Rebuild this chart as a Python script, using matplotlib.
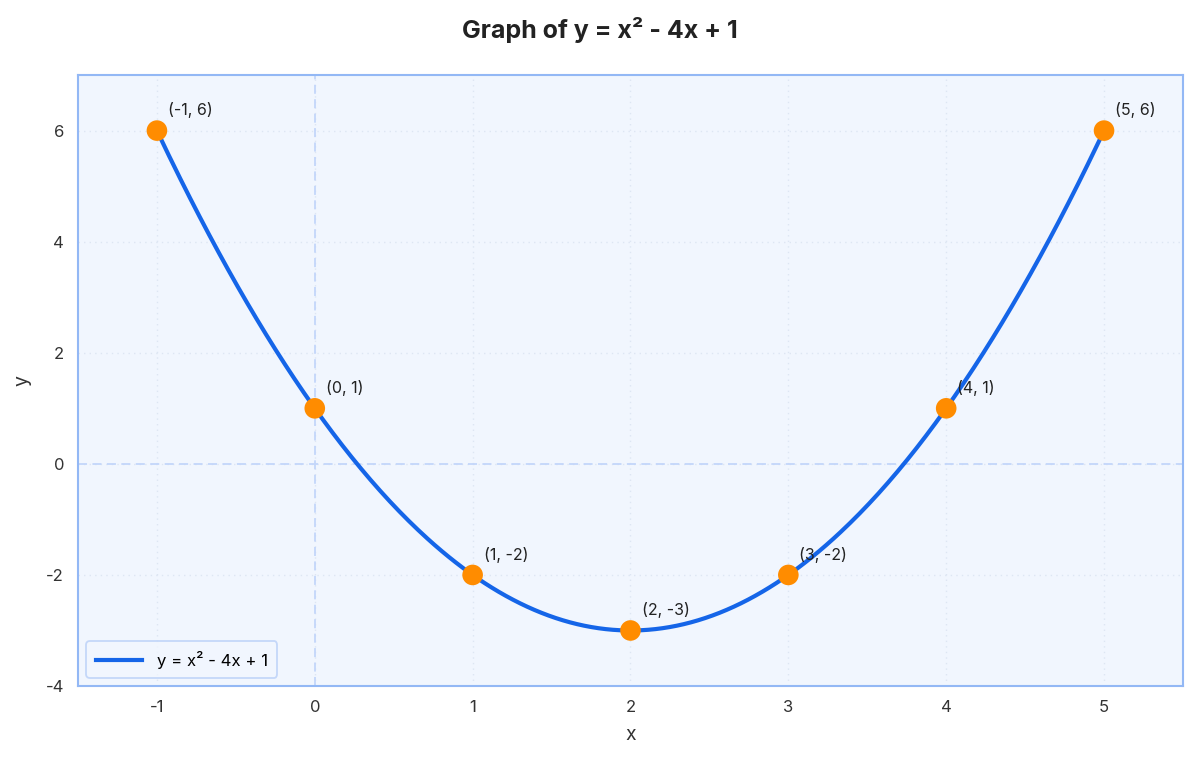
import numpy as np
import matplotlib
matplotlib.use("Agg")
import matplotlib.pyplot as plt

plt.rcParams['font.family'] = ['Inter', 'DejaVu Sans']

# Data
point_x = [-1, 0, 1, 2, 3, 4, 5]
point_y = [6, 1, -2, -3, -2, 1, 6]
point_labels = ["(-1, 6)", "(0, 1)", "(1, -2)", "(2, -3)", "(3, -2)", "(4, 1)", "(5, 6)"]
curve_label = "y = x² - 4x + 1"
title = "Graph of y = x² - 4x + 1"
x_ticks = [-1, 0, 1, 2, 3, 4, 5]
y_ticks = [-4, -2, 0, 2, 4, 6]

xs = np.linspace(-1, 5, 400)
ys = xs**2 - 4*xs + 1

fig = plt.figure(figsize=(12, 7.62), dpi=100)
ax = fig.add_axes([0.065, 0.0997, 0.9208, 0.8018])
ax.set_facecolor('#f1f6fe')

ax.plot(xs, ys, color='#1565e8', lw=3, label=curve_label, zorder=3)
ax.scatter(point_x, point_y, s=220, color='#ff8c00', zorder=4, edgecolors='none')
for px, py, lab in zip(point_x, point_y, point_labels):
    ax.annotate(lab, (px, py), xytext=(8, 11), textcoords='offset points',
                fontsize=11.5, color='#222222', zorder=5)

ax.axhline(0, color='#c3d6fa', lw=1.3, ls=(0, (5, 3)), zorder=1)
ax.axvline(0, color='#c3d6fa', lw=1.3, ls=(0, (5, 3)), zorder=1)

ax.grid(True, color='#dde6f3', lw=1, ls=(0, (1, 3)), zorder=0)
ax.set_axisbelow(True)

ax.set_xlim(-1.5, 5.5)
ax.set_ylim(-4, 7)
ax.set_xticks(x_ticks)
ax.set_yticks(y_ticks)
ax.set_xticklabels([str(t) for t in x_ticks])
ax.set_yticklabels([str(t) for t in y_ticks])
ax.tick_params(length=0, labelsize=12, colors='#333333', pad=10)

for s in ax.spines.values():
    s.set_color('#93b8f5')
    s.set_linewidth(1.5)

ax.set_xlabel('x', fontsize=14, color='#333333', labelpad=8)
ax.set_ylabel('y', fontsize=14, color='#333333', labelpad=10)
fig.suptitle(title, fontsize=18, fontweight='bold', color='#222222', y=0.978)

leg = ax.legend(loc='lower left', fontsize=12, frameon=True, fancybox=True,
                handlelength=2.8, borderpad=0.55, handletextpad=0.9)
leg.get_frame().set_edgecolor('#b9d0f8')
leg.get_frame().set_facecolor('#f1f6fe')
leg.get_frame().set_linewidth(1.3)

fig.savefig('out.png', dpi=100)
